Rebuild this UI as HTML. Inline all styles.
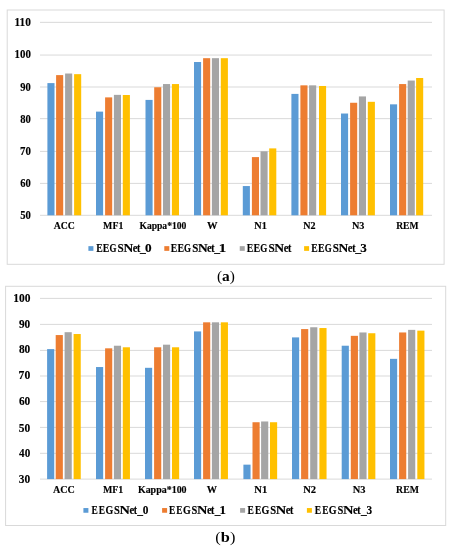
<!DOCTYPE html>
<html><head><meta charset="utf-8"><title>EEGSNet comparison charts</title>
<style>html,body{margin:0;padding:0;background:#fff;width:452px;height:550px;overflow:hidden}svg{display:block}</style>
</head><body>
<svg width="452" height="550" viewBox="0 0 452 550">
<style>
text{font-family:"Liberation Serif",serif;fill:#000}
.ax,.ay,.lg{stroke:#000;stroke-width:0.15px}
.ax{font-weight:bold;font-size:11.4px}
.ay{font-weight:bold;font-size:12.6px}
.lg{font-weight:bold;font-size:11.5px}
.cap{font-size:15.2px;stroke:#000;stroke-width:0px}
.capl{font-weight:bold;stroke-width:0}
</style>
<rect width="452" height="550" fill="#fff"/>
<g>
<rect x="7.2" y="10.0" width="436.90000000000003" height="254.3" fill="#fff" stroke="#d9d9d9" stroke-width="1"/>
<line x1="40" x2="432" y1="215.30" y2="215.30" stroke="#d9d9d9" stroke-width="1"/>
<text x="20.15" y="219.20" class="ay" textLength="10.69" lengthAdjust="spacingAndGlyphs">50</text>
<line x1="40" x2="432" y1="183.40" y2="183.40" stroke="#d9d9d9" stroke-width="1"/>
<text x="20.21" y="187.35" class="ay" textLength="10.62" lengthAdjust="spacingAndGlyphs">60</text>
<line x1="40" x2="432" y1="151.40" y2="151.40" stroke="#d9d9d9" stroke-width="1"/>
<text x="19.95" y="154.90" class="ay" textLength="10.89" lengthAdjust="spacingAndGlyphs">70</text>
<line x1="40" x2="432" y1="118.65" y2="118.65" stroke="#d9d9d9" stroke-width="1"/>
<text x="20.22" y="122.90" class="ay" textLength="10.61" lengthAdjust="spacingAndGlyphs">80</text>
<line x1="40" x2="432" y1="87.00" y2="87.00" stroke="#d9d9d9" stroke-width="1"/>
<text x="20.29" y="91.10" class="ay" textLength="10.54" lengthAdjust="spacingAndGlyphs">90</text>
<line x1="40" x2="432" y1="55.05" y2="55.05" stroke="#d9d9d9" stroke-width="1"/>
<text x="14.50" y="58.20" class="ay" textLength="16.34" lengthAdjust="spacingAndGlyphs">100</text>
<line x1="40" x2="432" y1="22.35" y2="22.35" stroke="#d9d9d9" stroke-width="1"/>
<text x="14.47" y="26.30" class="ay" textLength="16.39" lengthAdjust="spacingAndGlyphs">110</text>
<rect x="47.40" y="83.10" width="7.1" height="132.20" fill="#5B9BD5"/>
<rect x="56.10" y="75.11" width="7.1" height="140.19" fill="#ED7D31"/>
<rect x="65.10" y="73.52" width="7.1" height="141.78" fill="#A5A5A5"/>
<rect x="74.10" y="74.16" width="7.1" height="141.14" fill="#FFC000"/>
<rect x="96.00" y="111.62" width="7.1" height="103.68" fill="#5B9BD5"/>
<rect x="105.10" y="97.38" width="7.1" height="117.92" fill="#ED7D31"/>
<rect x="113.90" y="94.85" width="7.1" height="120.45" fill="#A5A5A5"/>
<rect x="122.80" y="95.01" width="7.1" height="120.29" fill="#FFC000"/>
<rect x="145.50" y="99.91" width="7.1" height="115.39" fill="#5B9BD5"/>
<rect x="154.20" y="87.25" width="7.1" height="128.05" fill="#ED7D31"/>
<rect x="163.00" y="84.06" width="7.1" height="131.24" fill="#A5A5A5"/>
<rect x="171.90" y="84.06" width="7.1" height="131.24" fill="#FFC000"/>
<rect x="194.00" y="62.02" width="7.1" height="153.28" fill="#5B9BD5"/>
<rect x="203.10" y="58.18" width="7.1" height="157.12" fill="#ED7D31"/>
<rect x="211.90" y="58.18" width="7.1" height="157.12" fill="#A5A5A5"/>
<rect x="220.80" y="58.18" width="7.1" height="157.12" fill="#FFC000"/>
<rect x="242.80" y="186.05" width="7.1" height="29.25" fill="#5B9BD5"/>
<rect x="251.90" y="157.10" width="7.1" height="58.20" fill="#ED7D31"/>
<rect x="260.50" y="151.33" width="7.1" height="63.97" fill="#A5A5A5"/>
<rect x="269.20" y="148.39" width="7.1" height="66.91" fill="#FFC000"/>
<rect x="291.40" y="93.90" width="7.1" height="121.40" fill="#5B9BD5"/>
<rect x="300.40" y="85.34" width="7.1" height="129.96" fill="#ED7D31"/>
<rect x="309.10" y="85.34" width="7.1" height="129.96" fill="#A5A5A5"/>
<rect x="319.00" y="85.98" width="7.1" height="129.32" fill="#FFC000"/>
<rect x="341.00" y="113.52" width="7.1" height="101.78" fill="#5B9BD5"/>
<rect x="350.10" y="102.76" width="7.1" height="112.54" fill="#ED7D31"/>
<rect x="358.90" y="96.43" width="7.1" height="118.87" fill="#A5A5A5"/>
<rect x="367.80" y="101.81" width="7.1" height="113.49" fill="#FFC000"/>
<rect x="390.00" y="104.34" width="7.1" height="110.96" fill="#5B9BD5"/>
<rect x="399.10" y="84.06" width="7.1" height="131.24" fill="#ED7D31"/>
<rect x="407.70" y="80.55" width="7.1" height="134.75" fill="#A5A5A5"/>
<rect x="416.10" y="77.99" width="7.1" height="137.31" fill="#FFC000"/>
<text x="53.68" y="229.2" class="ax" textLength="21.19" lengthAdjust="spacingAndGlyphs">ACC</text>
<text x="103.11" y="229.2" class="ax" textLength="20.23" lengthAdjust="spacingAndGlyphs">MF1</text>
<text x="139.41" y="229.2" class="ax" textLength="46.98" lengthAdjust="spacingAndGlyphs">Kappa*100</text>
<text x="206.93" y="229.2" class="ax" textLength="10.56" lengthAdjust="spacingAndGlyphs">W</text>
<text x="254.28" y="229.2" class="ax" textLength="12.47" lengthAdjust="spacingAndGlyphs">N1</text>
<text x="303.18" y="229.2" class="ax" textLength="12.33" lengthAdjust="spacingAndGlyphs">N2</text>
<text x="351.88" y="229.2" class="ax" textLength="12.49" lengthAdjust="spacingAndGlyphs">N3</text>
<text x="396.21" y="229.2" class="ax" textLength="22.34" lengthAdjust="spacingAndGlyphs">REM</text>
<rect x="88.4" y="246.15" width="5.0" height="4.7" fill="#5B9BD5"/>
<rect x="164.3" y="246.15" width="5.0" height="4.7" fill="#ED7D31"/>
<rect x="239.75" y="246.15" width="5.0" height="4.7" fill="#A5A5A5"/>
<rect x="304.1" y="246.15" width="5.0" height="4.7" fill="#FFC000"/>
<text y="251.7" class="lg"><tspan x="96.13" textLength="6.46" lengthAdjust="spacingAndGlyphs">E</tspan><tspan x="102.83" textLength="6.57" lengthAdjust="spacingAndGlyphs">E</tspan><tspan x="109.46" textLength="6.98" lengthAdjust="spacingAndGlyphs">G</tspan><tspan x="117.61" textLength="6.16" lengthAdjust="spacingAndGlyphs">S</tspan><tspan x="123.44" textLength="9.73" lengthAdjust="spacingAndGlyphs">N</tspan><tspan x="132.63" textLength="4.74" lengthAdjust="spacingAndGlyphs">e</tspan><tspan x="136.94" textLength="3.30" lengthAdjust="spacingAndGlyphs">t</tspan><tspan x="139.99" textLength="5.82" lengthAdjust="spacingAndGlyphs">_</tspan><tspan x="145.10" textLength="6.61" lengthAdjust="spacingAndGlyphs">0</tspan></text>
<text y="251.7" class="lg"><tspan x="170.84" textLength="6.42" lengthAdjust="spacingAndGlyphs">E</tspan><tspan x="177.48" textLength="6.53" lengthAdjust="spacingAndGlyphs">E</tspan><tspan x="184.07" textLength="6.93" lengthAdjust="spacingAndGlyphs">G</tspan><tspan x="192.16" textLength="6.12" lengthAdjust="spacingAndGlyphs">S</tspan><tspan x="197.95" textLength="9.66" lengthAdjust="spacingAndGlyphs">N</tspan><tspan x="207.07" textLength="4.71" lengthAdjust="spacingAndGlyphs">e</tspan><tspan x="211.34" textLength="3.28" lengthAdjust="spacingAndGlyphs">t</tspan><tspan x="214.37" textLength="5.78" lengthAdjust="spacingAndGlyphs">_</tspan><tspan x="218.73" textLength="7.55" lengthAdjust="spacingAndGlyphs">1</tspan></text>
<text y="251.7" class="lg"><tspan x="246.83" textLength="6.52" lengthAdjust="spacingAndGlyphs">E</tspan><tspan x="253.59" textLength="6.63" lengthAdjust="spacingAndGlyphs">E</tspan><tspan x="260.28" textLength="7.05" lengthAdjust="spacingAndGlyphs">G</tspan><tspan x="268.50" textLength="6.22" lengthAdjust="spacingAndGlyphs">S</tspan><tspan x="274.39" textLength="9.82" lengthAdjust="spacingAndGlyphs">N</tspan><tspan x="283.67" textLength="4.78" lengthAdjust="spacingAndGlyphs">e</tspan><tspan x="288.01" textLength="3.33" lengthAdjust="spacingAndGlyphs">t</tspan></text>
<text y="251.7" class="lg"><tspan x="311.33" textLength="6.46" lengthAdjust="spacingAndGlyphs">E</tspan><tspan x="318.03" textLength="6.57" lengthAdjust="spacingAndGlyphs">E</tspan><tspan x="324.66" textLength="6.98" lengthAdjust="spacingAndGlyphs">G</tspan><tspan x="332.81" textLength="6.16" lengthAdjust="spacingAndGlyphs">S</tspan><tspan x="338.64" textLength="9.73" lengthAdjust="spacingAndGlyphs">N</tspan><tspan x="347.83" textLength="4.74" lengthAdjust="spacingAndGlyphs">e</tspan><tspan x="352.14" textLength="3.30" lengthAdjust="spacingAndGlyphs">t</tspan><tspan x="355.19" textLength="5.82" lengthAdjust="spacingAndGlyphs">_</tspan><tspan x="360.31" textLength="6.54" lengthAdjust="spacingAndGlyphs">3</tspan></text>
<text x="216.99001006542525" y="281.3" class="cap" textLength="17.92" lengthAdjust="spacingAndGlyphs">(<tspan class="capl">a</tspan>)</text>
<rect x="5.6" y="286.3" width="440.09999999999997" height="239.2" fill="#fff" stroke="#d9d9d9" stroke-width="1"/>
<line x1="40" x2="432" y1="479.10" y2="479.10" stroke="#d9d9d9" stroke-width="1"/>
<text x="18.85" y="483.10" class="ay" textLength="11.41" lengthAdjust="spacingAndGlyphs">30</text>
<line x1="40" x2="432" y1="453.30" y2="453.30" stroke="#d9d9d9" stroke-width="1"/>
<text x="19.12" y="457.30" class="ay" textLength="11.13" lengthAdjust="spacingAndGlyphs">40</text>
<line x1="40" x2="432" y1="427.40" y2="427.40" stroke="#d9d9d9" stroke-width="1"/>
<text x="18.82" y="431.60" class="ay" textLength="11.44" lengthAdjust="spacingAndGlyphs">50</text>
<line x1="40" x2="432" y1="401.60" y2="401.60" stroke="#d9d9d9" stroke-width="1"/>
<text x="18.89" y="405.20" class="ay" textLength="11.37" lengthAdjust="spacingAndGlyphs">60</text>
<line x1="40" x2="432" y1="376.00" y2="376.00" stroke="#d9d9d9" stroke-width="1"/>
<text x="18.61" y="379.10" class="ay" textLength="11.66" lengthAdjust="spacingAndGlyphs">70</text>
<line x1="40" x2="432" y1="350.40" y2="350.40" stroke="#d9d9d9" stroke-width="1"/>
<text x="18.90" y="353.20" class="ay" textLength="11.36" lengthAdjust="spacingAndGlyphs">80</text>
<line x1="40" x2="432" y1="324.40" y2="324.40" stroke="#d9d9d9" stroke-width="1"/>
<text x="18.97" y="327.90" class="ay" textLength="11.29" lengthAdjust="spacingAndGlyphs">90</text>
<line x1="40" x2="432" y1="298.40" y2="298.40" stroke="#d9d9d9" stroke-width="1"/>
<text x="13.16" y="301.90" class="ay" textLength="17.21" lengthAdjust="spacingAndGlyphs">100</text>
<rect x="47.10" y="349.10" width="7.15" height="130.00" fill="#5B9BD5"/>
<rect x="55.70" y="335.06" width="7.15" height="144.04" fill="#ED7D31"/>
<rect x="64.60" y="332.20" width="7.15" height="146.90" fill="#A5A5A5"/>
<rect x="73.60" y="334.02" width="7.15" height="145.08" fill="#FFC000"/>
<rect x="96.00" y="367.04" width="7.15" height="112.06" fill="#5B9BD5"/>
<rect x="105.10" y="348.32" width="7.15" height="130.78" fill="#ED7D31"/>
<rect x="113.90" y="345.72" width="7.15" height="133.38" fill="#A5A5A5"/>
<rect x="122.80" y="347.28" width="7.15" height="131.82" fill="#FFC000"/>
<rect x="145.00" y="367.81" width="7.15" height="111.29" fill="#5B9BD5"/>
<rect x="154.10" y="347.28" width="7.15" height="131.82" fill="#ED7D31"/>
<rect x="163.00" y="344.68" width="7.15" height="134.42" fill="#A5A5A5"/>
<rect x="172.00" y="347.28" width="7.15" height="131.82" fill="#FFC000"/>
<rect x="194.00" y="331.42" width="7.15" height="147.68" fill="#5B9BD5"/>
<rect x="203.10" y="322.32" width="7.15" height="156.78" fill="#ED7D31"/>
<rect x="211.90" y="322.32" width="7.15" height="156.78" fill="#A5A5A5"/>
<rect x="220.80" y="322.32" width="7.15" height="156.78" fill="#FFC000"/>
<rect x="243.40" y="464.65" width="7.15" height="14.45" fill="#5B9BD5"/>
<rect x="252.50" y="422.24" width="7.15" height="56.86" fill="#ED7D31"/>
<rect x="261.10" y="421.47" width="7.15" height="57.63" fill="#A5A5A5"/>
<rect x="270.00" y="422.24" width="7.15" height="56.86" fill="#FFC000"/>
<rect x="292.00" y="337.40" width="7.15" height="141.70" fill="#5B9BD5"/>
<rect x="301.10" y="329.08" width="7.15" height="150.02" fill="#ED7D31"/>
<rect x="310.20" y="327.26" width="7.15" height="151.84" fill="#A5A5A5"/>
<rect x="319.40" y="328.04" width="7.15" height="151.06" fill="#FFC000"/>
<rect x="341.70" y="345.72" width="7.15" height="133.38" fill="#5B9BD5"/>
<rect x="350.80" y="335.84" width="7.15" height="143.26" fill="#ED7D31"/>
<rect x="359.40" y="332.46" width="7.15" height="146.64" fill="#A5A5A5"/>
<rect x="368.20" y="333.24" width="7.15" height="145.86" fill="#FFC000"/>
<rect x="390.00" y="358.85" width="7.15" height="120.25" fill="#5B9BD5"/>
<rect x="399.10" y="332.46" width="7.15" height="146.64" fill="#ED7D31"/>
<rect x="408.10" y="329.86" width="7.15" height="149.24" fill="#A5A5A5"/>
<rect x="417.30" y="330.64" width="7.15" height="148.46" fill="#FFC000"/>
<text x="52.98" y="493.2" class="ax" textLength="21.92" lengthAdjust="spacingAndGlyphs">ACC</text>
<text x="102.90" y="493.2" class="ax" textLength="20.44" lengthAdjust="spacingAndGlyphs">MF1</text>
<text x="137.90" y="493.2" class="ax" textLength="48.70" lengthAdjust="spacingAndGlyphs">Kappa*100</text>
<text x="206.63" y="493.2" class="ax" textLength="10.26" lengthAdjust="spacingAndGlyphs">W</text>
<text x="254.37" y="493.2" class="ax" textLength="13.00" lengthAdjust="spacingAndGlyphs">N1</text>
<text x="303.17" y="493.2" class="ax" textLength="12.91" lengthAdjust="spacingAndGlyphs">N2</text>
<text x="352.68" y="493.2" class="ax" textLength="12.81" lengthAdjust="spacingAndGlyphs">N3</text>
<text x="396.11" y="493.2" class="ax" textLength="22.80" lengthAdjust="spacingAndGlyphs">REM</text>
<rect x="83.4" y="508.05" width="5.0" height="4.7" fill="#5B9BD5"/>
<rect x="162.1" y="508.05" width="5.0" height="4.7" fill="#ED7D31"/>
<rect x="240.1" y="508.05" width="5.0" height="4.7" fill="#A5A5A5"/>
<rect x="306.9" y="508.05" width="5.0" height="4.7" fill="#FFC000"/>
<text y="513.9" class="lg"><tspan x="91.49" textLength="6.30" lengthAdjust="spacingAndGlyphs">E</tspan><tspan x="98.84" textLength="6.24" lengthAdjust="spacingAndGlyphs">E</tspan><tspan x="105.41" textLength="7.76" lengthAdjust="spacingAndGlyphs">G</tspan><tspan x="113.95" textLength="5.80" lengthAdjust="spacingAndGlyphs">S</tspan><tspan x="119.43" textLength="10.36" lengthAdjust="spacingAndGlyphs">N</tspan><tspan x="129.43" textLength="4.74" lengthAdjust="spacingAndGlyphs">e</tspan><tspan x="133.64" textLength="3.30" lengthAdjust="spacingAndGlyphs">t</tspan><tspan x="137.29" textLength="5.72" lengthAdjust="spacingAndGlyphs">_</tspan><tspan x="142.77" textLength="5.66" lengthAdjust="spacingAndGlyphs">0</tspan></text>
<text y="513.9" class="lg"><tspan x="169.04" textLength="6.28" lengthAdjust="spacingAndGlyphs">E</tspan><tspan x="176.37" textLength="6.22" lengthAdjust="spacingAndGlyphs">E</tspan><tspan x="182.93" textLength="7.74" lengthAdjust="spacingAndGlyphs">G</tspan><tspan x="191.44" textLength="5.78" lengthAdjust="spacingAndGlyphs">S</tspan><tspan x="196.90" textLength="10.33" lengthAdjust="spacingAndGlyphs">N</tspan><tspan x="206.88" textLength="4.73" lengthAdjust="spacingAndGlyphs">e</tspan><tspan x="211.08" textLength="3.29" lengthAdjust="spacingAndGlyphs">t</tspan><tspan x="214.72" textLength="5.71" lengthAdjust="spacingAndGlyphs">_</tspan><tspan x="219.57" textLength="6.50" lengthAdjust="spacingAndGlyphs">1</tspan></text>
<text y="513.9" class="lg"><tspan x="247.54" textLength="6.36" lengthAdjust="spacingAndGlyphs">E</tspan><tspan x="254.96" textLength="6.30" lengthAdjust="spacingAndGlyphs">E</tspan><tspan x="261.60" textLength="7.84" lengthAdjust="spacingAndGlyphs">G</tspan><tspan x="270.22" textLength="5.86" lengthAdjust="spacingAndGlyphs">S</tspan><tspan x="275.75" textLength="10.47" lengthAdjust="spacingAndGlyphs">N</tspan><tspan x="285.86" textLength="4.79" lengthAdjust="spacingAndGlyphs">e</tspan><tspan x="290.11" textLength="3.34" lengthAdjust="spacingAndGlyphs">t</tspan></text>
<text y="513.9" class="lg"><tspan x="314.84" textLength="6.33" lengthAdjust="spacingAndGlyphs">E</tspan><tspan x="322.23" textLength="6.28" lengthAdjust="spacingAndGlyphs">E</tspan><tspan x="328.85" textLength="7.81" lengthAdjust="spacingAndGlyphs">G</tspan><tspan x="337.43" textLength="5.83" lengthAdjust="spacingAndGlyphs">S</tspan><tspan x="342.95" textLength="10.43" lengthAdjust="spacingAndGlyphs">N</tspan><tspan x="353.02" textLength="4.77" lengthAdjust="spacingAndGlyphs">e</tspan><tspan x="357.25" textLength="3.32" lengthAdjust="spacingAndGlyphs">t</tspan><tspan x="360.92" textLength="5.76" lengthAdjust="spacingAndGlyphs">_</tspan><tspan x="366.45" textLength="5.64" lengthAdjust="spacingAndGlyphs">3</tspan></text>
<text x="215.34570815450644" y="542.3" class="cap" textLength="20.01" lengthAdjust="spacingAndGlyphs">(<tspan class="capl">b</tspan>)</text>
</g>
</svg>
</body></html>
